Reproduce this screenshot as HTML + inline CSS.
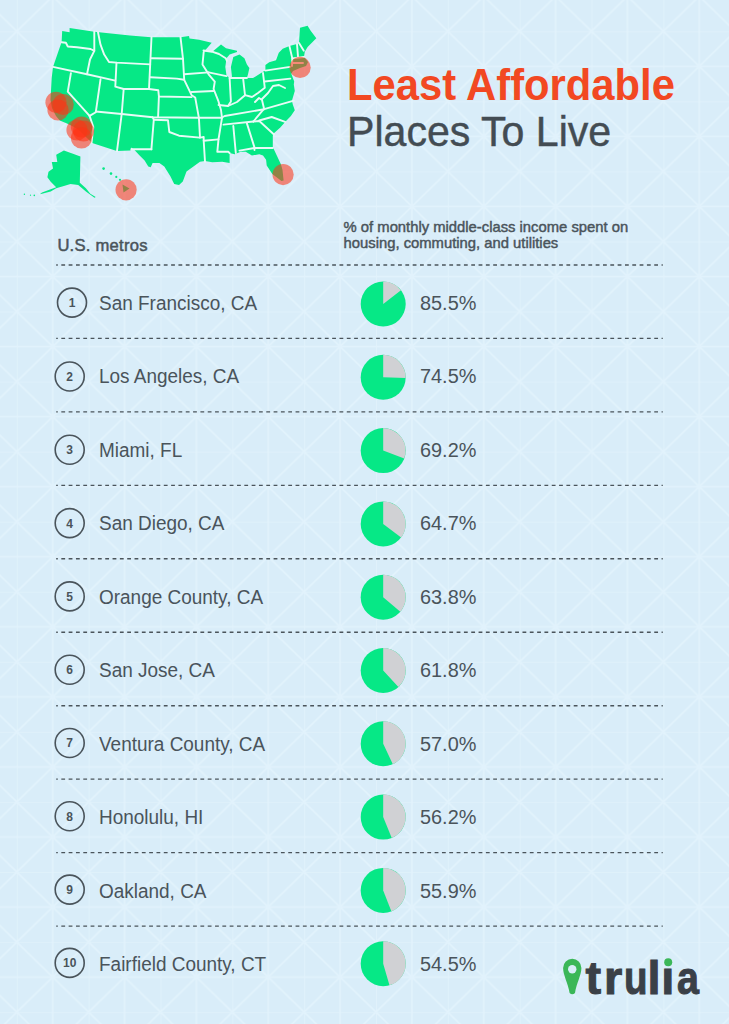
<!DOCTYPE html>
<html><head><meta charset="utf-8">
<style>
html,body{margin:0;padding:0;}
body{width:729px;height:1024px;overflow:hidden;position:relative;background:#D9EDF9;font-family:"Liberation Sans",sans-serif;color:#4A545B;}
svg{position:absolute;left:0;top:0;}
.t1{position:absolute;left:346.8px;top:63.3px;font-weight:bold;font-size:44.9px;line-height:44.9px;color:#F24822;white-space:nowrap;transform:scaleX(0.93);transform-origin:0 0;}
.t2{position:absolute;left:346.5px;top:110.1px;font-size:42.9px;line-height:42.9px;color:#434C53;white-space:nowrap;-webkit-text-stroke:0.45px #434C53;transform:scaleX(0.958);transform-origin:0 0;}
.h1{position:absolute;left:57.4px;top:238.3px;font-size:16.6px;line-height:16.6px;letter-spacing:0.25px;white-space:nowrap;-webkit-text-stroke:0.5px #4A545B;}
.h2{position:absolute;left:343.6px;top:220.2px;font-size:14.8px;line-height:15.8px;-webkit-text-stroke:0.45px #4A545B;white-space:nowrap;}
.num{position:absolute;width:30px;height:15px;line-height:15px;text-align:center;font-weight:bold;font-size:12px;}
.name{position:absolute;left:99.2px;font-size:20px;line-height:20px;white-space:nowrap;transform:scaleX(0.948);transform-origin:0 0;}
.pct{position:absolute;left:420.2px;font-size:20.5px;line-height:20px;white-space:nowrap;transform:scaleX(0.97);transform-origin:0 0;}
.lg{position:absolute;top:954.4px;font-weight:bold;font-size:47px;line-height:47px;color:#3A4047;-webkit-text-stroke:1px #3A4047;white-space:nowrap;transform-origin:0 0;}
</style></head><body>
<svg class="pat" width="729" height="1024"><defs>
<pattern id="pp" x="16.8" y="31.3" width="71.84" height="70.06" patternUnits="userSpaceOnUse">
<path d="M0,0 V70.06 M35.92,0 V70.06 M0,0 L71.84,70.06 M71.84,0 L0,70.06" stroke="#E2F3FC" stroke-width="1.6" fill="none"/>
<path d="M0,0 H71.84 M0,35.03 H71.84" stroke="#E1F2FC" stroke-width="1.5" fill="none"/>
</pattern></defs><rect width="729" height="1024" fill="url(#pp)"/></svg>
<svg class="map" width="729" height="230" viewBox="0 0 729 230">
<polygon points="62.2,31.1 69.6,32.3 69.6,28.0 94.3,31.7 130.0,35.4 151.0,37.2 180.5,37.2 189.0,36.0 189.5,38.5 199.0,39.7 211.7,42.8 203.7,52.0 207.4,50.8 212.3,52.0 213.6,50.8 221.0,44.6 226.0,48.3 237.0,50.8 237.0,52.0 229.6,54.5 226.5,58.2 225.3,66.9 226.5,75.5 229.6,78.0 232.0,76.7 230.9,66.9 233.3,57.0 239.5,54.5 244.4,58.2 246.9,64.4 249.4,68.0 248.0,74.3 246.9,78.0 253.0,78.0 263.0,71.8 265.4,70.6 265.4,65.1 269.2,62.3 276.0,60.3 278.8,52.7 282.7,48.8 289.4,45.9 297.0,44.0 299.0,43.0 300.0,27.7 307.6,25.8 310.5,30.6 316.3,38.3 307.6,46.9 304.8,51.7 304.0,57.0 308.0,62.0 306.0,66.0 300.0,68.0 293.0,71.0 291.3,73.8 294.2,81.5 293.8,84.4 294.8,91.1 291.9,100.7 292.8,104.6 294.8,110.3 290.9,116.1 285.1,121.9 280.3,127.6 273.6,133.4 272.8,135.7 272.8,146.9 281.0,164.5 282.5,170.0 283.6,180.5 281.5,181.0 272.3,174.0 266.7,165.4 266.1,159.8 263.0,155.5 259.3,154.3 251.9,155.5 245.7,151.8 240.7,151.8 234.6,154.3 229.6,153.0 229.6,162.9 222.2,161.7 212.3,162.3 205.0,161.0 200.0,161.7 186.5,171.5 182.8,181.4 179.0,185.0 174.2,183.9 170.5,176.5 164.3,166.6 159.4,162.9 152.6,162.9 150.7,167.2 148.3,166.6 144.6,160.4 139.6,155.5 134.0,149.5 131.0,147.4 130.4,150.5 116.8,151.1 92.1,143.1 87.0,138.0 80.0,131.0 74.0,127.0 67.0,123.5 59.8,120.4 56.0,116.0 52.0,108.0 50.5,100.0 51.1,89.1 51.7,78.0 53.0,66.9 58.5,50.9 61.6,42.2" fill="#06E886"/>
<polygon points="56.2,154.8 63.9,150.4 71.6,153.2 80.4,156.5 79.8,182.8 85.9,188.3 90.3,193.8 95.7,197.1 94.5,197.8 85.9,191.6 78.2,185.0 70.5,183.9 63.9,186.1 56.2,188.3 50.7,191.6 42.0,193.8 39.8,194.3 42.0,192.5 50.0,189.5 56.2,187.2 50.7,181.7 47.4,177.3 48.5,171.8 53.0,168.5 51.8,162.0 57.3,162.0" fill="#06E886"/>
<circle cx="103.6" cy="168.6" r="1.3" fill="#06E886"/>
<circle cx="111" cy="173.6" r="1.3" fill="#06E886"/>
<circle cx="116.3" cy="176.9" r="1.1" fill="#06E886"/>
<circle cx="120" cy="179.8" r="1.1" fill="#06E886"/>
<circle cx="24.4" cy="194.3" r="0.7" fill="#06E886"/>
<circle cx="30.5" cy="195.2" r="0.6" fill="#06E886"/>
<circle cx="34.3" cy="195.4" r="0.8" fill="#06E886"/>
<polygon points="122.5,184.5 129.5,188.5 123.5,192.5" fill="#06E886"/>
<g fill="none" stroke="#E8FBF6" stroke-width="1.9" stroke-linejoin="round" stroke-linecap="round">
<polyline points="61.6,42.2 65.9,42.8 67.8,46.5 77.0,47.2 90.6,49.0 94.3,50.9"/>
<polyline points="94.3,31.7 94.3,50.9 90.0,59.5 87.0,74.3"/>
<polyline points="53.0,66.9 87.0,74.3 115.3,80.6"/>
<polyline points="70.9,73.1 67.8,91.6 89.6,115.9"/>
<polyline points="98.0,32.3 100.5,44.7 104.2,54.6 109.0,62.0 116.5,62.6 150.2,64.4"/>
<polyline points="116.5,62.6 115.3,86.7 123.7,89.0 149.0,89.0 158.3,90.3 158.9,96.5 191.6,97.1"/>
<polyline points="151.5,37.2 149.0,89.0"/>
<polyline points="100.5,79.3 95.8,112.2 89.6,115.9"/>
<polyline points="89.6,115.9 93.3,127.0 91.5,143.1"/>
<polyline points="95.8,111.5 121.7,114.0 152.6,117.2 198.9,117.8 222.0,117.8"/>
<polyline points="123.7,89.0 121.7,114.0 117.0,151.0"/>
<polyline points="158.9,96.5 158.1,117.0"/>
<polyline points="152.6,117.2 153.8,119.7 151.4,149.3"/>
<polyline points="153.8,119.7 168.0,120.3 169.3,132.0 179.0,135.7 200.0,137.6 203.7,137.0 203.7,140.7 205.0,161.7"/>
<polyline points="151.5,58.2 183.0,58.8"/>
<polyline points="180.5,37.2 183.0,58.8 184.2,79.8"/>
<polyline points="150.2,77.3 176.8,78.6 184.2,79.8 191.6,95.2 195.2,97.5 198.9,117.8 200.0,137.6"/>
<polyline points="184.2,74.3 208.6,72.4"/>
<polyline points="191.6,92.0 213.6,91.0"/>
<polyline points="203.7,52.0 202.5,64.4 208.6,74.3 214.8,81.7 213.6,89.0 218.5,101.4 221.0,110.0 222.0,117.8 218.5,139.4 217.3,151.8 228.4,151.8 229.6,153.0"/>
<polyline points="208.6,72.4 226.5,76.1"/>
<polyline points="203.7,140.7 218.5,139.4"/>
<polyline points="223.5,124.6 253.4,121.5"/>
<polyline points="222.0,117.5 224.7,116.0 264.2,109.2 293.8,100.7"/>
<polyline points="233.3,125.9 235.8,153.0"/>
<polyline points="246.9,123.4 254.3,146.9 254.5,150.0"/>
<polyline points="239.5,150.6 254.3,148.0 272.8,148.0"/>
<polyline points="253.4,121.5 259.3,121.0 274.0,134.5"/>
<polyline points="259.2,120.5 271.7,117.0 285.1,121.9"/>
<polyline points="263.5,109.4 253.4,121.5"/>
<polyline points="229.6,78.0 230.9,101.4 228.0,106.0"/>
<polyline points="243.2,79.2 245.0,95.2"/>
<polyline points="229.6,78.0 246.9,78.0"/>
<polyline points="218.5,105.0 228.0,106.0 237.0,102.0 245.0,95.2 252.0,97.0 258.0,93.0 264.8,87.8 263.0,73.0"/>
<polyline points="255.0,102.0 259.0,98.0 262.0,100.0 264.2,109.2"/>
<polyline points="265.4,70.6 290.0,66.9"/>
<polyline points="264.6,81.5 290.3,78.6"/>
<polyline points="262.0,99.0 268.0,93.0 273.0,86.0 279.0,85.0 285.0,88.0"/>
<polyline points="289.4,45.9 292.3,58.4 292.0,66.0"/>
<polyline points="297.0,44.0 298.0,56.5"/>
<polyline points="299.0,43.0 303.8,50.7"/>
<polyline points="292.3,58.4 304.0,57.0"/>
<polyline points="292.0,63.0 303.0,63.0"/>
<polyline points="131.6,149.3 151.4,149.3"/>
<polyline points="203.5,50.5 212.0,51.7 219.0,54.0 225.7,58.2 226.9,60.8"/>
</g>
<g fill="#FF3214" fill-opacity="0.56">
<circle cx="300.1" cy="67.4" r="10.6"/>
<circle cx="283.1" cy="174.6" r="10.6"/>
<circle cx="126.1" cy="189.8" r="10.6"/>
<circle cx="56" cy="102.3" r="10.6"/>
<circle cx="63.2" cy="104.5" r="10.6"/>
<circle cx="58" cy="110" r="10.6"/>
<circle cx="77" cy="130" r="10.6"/>
<circle cx="81.5" cy="127" r="10.6"/>
<circle cx="83.6" cy="131" r="10.6"/>
<circle cx="81.5" cy="137.9" r="10.6"/>
</g></svg>
<div class="t1">Least Affordable</div>
<div class="t2">Places To Live</div>
<div class="h1">U.S. metros</div>
<div class="h2">% of monthly middle-class income spent on<br>housing, commuting, and utilities</div>
<svg class="rows" width="729" height="1024" viewBox="0 0 729 1024">
<line x1="56.2" y1="265.0" x2="662.8" y2="265.0" stroke="#4A545B" stroke-width="1.4" stroke-dasharray="3.8 3.52" stroke-dashoffset="2.2"/>
<line x1="56.2" y1="338.4" x2="662.8" y2="338.4" stroke="#4A545B" stroke-width="1.4" stroke-dasharray="3.8 3.52" stroke-dashoffset="2.2"/>
<line x1="56.2" y1="411.9" x2="662.8" y2="411.9" stroke="#4A545B" stroke-width="1.4" stroke-dasharray="3.8 3.52" stroke-dashoffset="2.2"/>
<line x1="56.2" y1="485.4" x2="662.8" y2="485.4" stroke="#4A545B" stroke-width="1.4" stroke-dasharray="3.8 3.52" stroke-dashoffset="2.2"/>
<line x1="56.2" y1="558.8" x2="662.8" y2="558.8" stroke="#4A545B" stroke-width="1.4" stroke-dasharray="3.8 3.52" stroke-dashoffset="2.2"/>
<line x1="56.2" y1="632.2" x2="662.8" y2="632.2" stroke="#4A545B" stroke-width="1.4" stroke-dasharray="3.8 3.52" stroke-dashoffset="2.2"/>
<line x1="56.2" y1="705.7" x2="662.8" y2="705.7" stroke="#4A545B" stroke-width="1.4" stroke-dasharray="3.8 3.52" stroke-dashoffset="2.2"/>
<line x1="56.2" y1="779.1" x2="662.8" y2="779.1" stroke="#4A545B" stroke-width="1.4" stroke-dasharray="3.8 3.52" stroke-dashoffset="2.2"/>
<line x1="56.2" y1="852.6" x2="662.8" y2="852.6" stroke="#4A545B" stroke-width="1.4" stroke-dasharray="3.8 3.52" stroke-dashoffset="2.2"/>
<line x1="56.2" y1="926.1" x2="662.8" y2="926.1" stroke="#4A545B" stroke-width="1.4" stroke-dasharray="3.8 3.52" stroke-dashoffset="2.2"/>
<circle cx="72" cy="302.6" r="14.5" fill="none" stroke="#4A545B" stroke-width="1.6"/>
<circle cx="383.2" cy="304.0" r="22.5" fill="#06E886"/><path d="M383.2,304.0 L383.2,281.5 A22.5,22.5 0 0 1 400.98,290.21 Z" fill="#D0D1D4"/>
<circle cx="69.7" cy="376.5" r="14.5" fill="none" stroke="#4A545B" stroke-width="1.6"/>
<circle cx="383.2" cy="377.3" r="22.5" fill="#06E886"/><path d="M383.2,377.3 L383.2,354.8 A22.5,22.5 0 0 1 405.69,378.01 Z" fill="#D0D1D4"/>
<circle cx="69.7" cy="449.8" r="14.5" fill="none" stroke="#4A545B" stroke-width="1.6"/>
<circle cx="383.2" cy="450.59999999999997" r="22.5" fill="#06E886"/><path d="M383.2,450.59999999999997 L383.2,428.09999999999997 A22.5,22.5 0 0 1 404.22,458.62 Z" fill="#D0D1D4"/>
<circle cx="69.7" cy="523.1" r="14.5" fill="none" stroke="#4A545B" stroke-width="1.6"/>
<circle cx="383.2" cy="523.8999999999999" r="22.5" fill="#06E886"/><path d="M383.2,523.8999999999999 L383.2,501.39999999999986 A22.5,22.5 0 0 1 401.15,537.47 Z" fill="#D0D1D4"/>
<circle cx="69.7" cy="596.4" r="14.5" fill="none" stroke="#4A545B" stroke-width="1.6"/>
<circle cx="383.2" cy="597.1999999999999" r="22.5" fill="#06E886"/><path d="M383.2,597.1999999999999 L383.2,574.6999999999999 A22.5,22.5 0 0 1 400.35,611.76 Z" fill="#D0D1D4"/>
<circle cx="69.7" cy="669.7" r="14.5" fill="none" stroke="#4A545B" stroke-width="1.6"/>
<circle cx="383.2" cy="670.5" r="22.5" fill="#06E886"/><path d="M383.2,670.5 L383.2,648.0 A22.5,22.5 0 0 1 398.39,687.09 Z" fill="#D0D1D4"/>
<circle cx="69.7" cy="743.0" r="14.5" fill="none" stroke="#4A545B" stroke-width="1.6"/>
<circle cx="383.2" cy="743.8" r="22.5" fill="#06E886"/><path d="M383.2,743.8 L383.2,721.3 A22.5,22.5 0 0 1 392.78,764.16 Z" fill="#D0D1D4"/>
<circle cx="69.7" cy="816.3" r="14.5" fill="none" stroke="#4A545B" stroke-width="1.6"/>
<circle cx="383.2" cy="817.0999999999999" r="22.5" fill="#06E886"/><path d="M383.2,817.0999999999999 L383.2,794.5999999999999 A22.5,22.5 0 0 1 391.75,837.91 Z" fill="#D0D1D4"/>
<circle cx="69.7" cy="889.6" r="14.5" fill="none" stroke="#4A545B" stroke-width="1.6"/>
<circle cx="383.2" cy="890.3999999999999" r="22.5" fill="#06E886"/><path d="M383.2,890.3999999999999 L383.2,867.8999999999999 A22.5,22.5 0 0 1 391.35,911.37 Z" fill="#D0D1D4"/>
<circle cx="69.7" cy="962.9" r="14.5" fill="none" stroke="#4A545B" stroke-width="1.6"/>
<circle cx="383.2" cy="963.6999999999998" r="22.5" fill="#06E886"/><path d="M383.2,963.6999999999998 L383.2,941.1999999999998 A22.5,22.5 0 0 1 389.48,985.31 Z" fill="#D0D1D4"/>
</svg>
<div class="num" style="left:57.0px;top:296.0px">1</div>
<div class="name" style="top:292.9px">San Francisco, CA</div>
<div class="pct" style="top:292.6px">85.5%</div>
<div class="num" style="left:54.7px;top:369.9px">2</div>
<div class="name" style="top:366.4px">Los Angeles, CA</div>
<div class="pct" style="top:366.1px">74.5%</div>
<div class="num" style="left:54.7px;top:443.2px">3</div>
<div class="name" style="top:439.9px">Miami, FL</div>
<div class="pct" style="top:439.6px">69.2%</div>
<div class="num" style="left:54.7px;top:516.5px">4</div>
<div class="name" style="top:513.4px">San Diego, CA</div>
<div class="pct" style="top:513.1px">64.7%</div>
<div class="num" style="left:54.7px;top:589.8px">5</div>
<div class="name" style="top:586.9px">Orange County, CA</div>
<div class="pct" style="top:586.6px">63.8%</div>
<div class="num" style="left:54.7px;top:663.1px">6</div>
<div class="name" style="top:660.4px">San Jose, CA</div>
<div class="pct" style="top:660.1px">61.8%</div>
<div class="num" style="left:54.7px;top:736.4px">7</div>
<div class="name" style="top:733.9px">Ventura County, CA</div>
<div class="pct" style="top:733.6px">57.0%</div>
<div class="num" style="left:54.7px;top:809.7px">8</div>
<div class="name" style="top:807.4px">Honolulu, HI</div>
<div class="pct" style="top:807.1px">56.2%</div>
<div class="num" style="left:54.7px;top:883.0px">9</div>
<div class="name" style="top:880.9px">Oakland, CA</div>
<div class="pct" style="top:880.6px">55.9%</div>
<div class="num" style="left:54.7px;top:956.3px">10</div>
<div class="name" style="top:954.4px">Fairfield County, CT</div>
<div class="pct" style="top:954.1px">54.5%</div>
<svg class="pin" width="729" height="1024">
<path d="M563.1,968 A9.15,9.15 0 0 1 581.4,968 C581.4,975 576.6,983 575,993 Q572.3,995.6 569.6,993 C568,983 563.1,975 563.1,968 Z" fill="#3BB758"/>
<circle cx="572.25" cy="969.2" r="4.2" fill="#D9EDF9"/>
<circle cx="668.2" cy="962.3" r="4" fill="#3BB758"/>
</svg>
<div class="lg" style="left:585.4px">t</div><div class="lg" style="left:603.9px">r</div><div class="lg" style="left:623.6px;transform:scaleX(0.82)">u</div><div class="lg" style="left:647.6px">l</div><div class="lg" style="left:661.3px">&#305;</div><div class="lg" style="left:677.1px;transform:scaleX(0.84)">a</div>
</body></html>
